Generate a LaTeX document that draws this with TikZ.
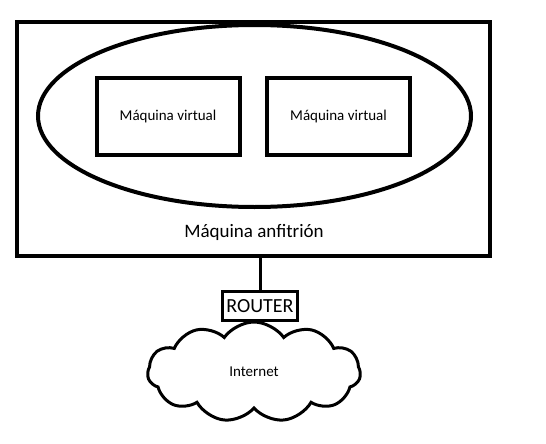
\documentclass[tikz,border=0pt]{standalone}
\usepackage{fontspec}
\setmainfont{Carlito}
\usetikzlibrary{shapes.geometric,shapes.symbols,positioning}
\tikzset{
  hostbox/.style={draw, line width=4.5pt, minimum width=473pt, minimum height=234pt},
  vmbox/.style={draw, line width=4pt, minimum width=143pt, minimum height=77pt, font=\fontsize{15}{17}\selectfont},
  hyper/.style={draw, ellipse, line width=4pt, minimum width=433pt, minimum height=182pt},
  routerbox/.style={draw, line width=2.5pt, fill=white, inner sep=2pt, minimum width=75pt, minimum height=29pt, font=\fontsize{20}{22}\selectfont},
  netcloud/.style={draw, cloud, cloud puffs=11, cloud puff arc=110, aspect=2.2, line width=3pt, minimum width=213pt, minimum height=100pt, font=\fontsize{15}{17}\selectfont},
  wire/.style={line width=3pt}
}
\begin{document}
\begin{tikzpicture}[x=1pt, y=-1pt]
  \useasboundingbox (0,0) rectangle (546,444);

  % ── Host machine ──
  \node[hostbox] (host) at (253.5, 139) {};
  \node[hyper] (hyp) at (254.5, 116) {};
  \node[font=\fontsize{19}{21}\selectfont] (hostlabel) at (254, 232) {Máquina anfitrión};

  % Virtual machines
  \node[vmbox] (vm1) at (168, 116.5) {Máquina virtual};
  \node[vmbox] (vm2) at (338.5, 116.5) {Máquina virtual};

  % ── Router and Internet ──
  \node[routerbox] (router) at (260, 306) {ROUTER};
  \node[netcloud] (inet) at (254, 372) {Internet};

  \draw[wire] (router.north) -- (router.north |- host.south);
  \draw[wire] (router.south) -- (router.south |- inet.north);
\end{tikzpicture}
\end{document}
